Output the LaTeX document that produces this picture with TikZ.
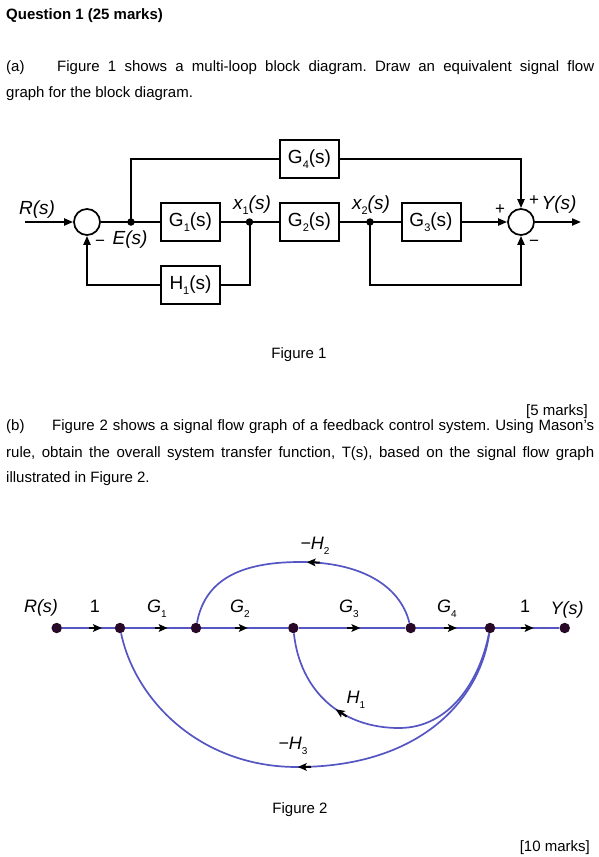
\documentclass[tikz,border=0pt]{standalone}
\usepackage{fontspec}
\setmainfont{Liberation Sans}
\usepackage{graphicx}
\usetikzlibrary{arrows.meta,decorations.markings}
\definecolor{sfblue}{RGB}{85,85,195}
\definecolor{sfdot}{RGB}{40,10,40}
\frenchspacing
\newsavebox\jlbox
\newcommand\jline[2]{\sbox\jlbox{#2}\ifdim\wd\jlbox>#1\relax\resizebox{#1}{\height}{\usebox\jlbox}\else\makebox[#1][s]{#2}\fi}
\newcommand\bsub[1]{\raisebox{-4.5pt}{\fontsize{11}{11}\selectfont\upshape #1}}
\newcommand\ssub[1]{\raisebox{-5pt}{\fontsize{10}{10}\selectfont\upshape #1}}
\begin{document}
\begin{tikzpicture}[x=1pt,y=-1pt,
  txt/.style={font=\fontsize{15}{18}\selectfont, inner sep=0, anchor=base west},
  bd/.style={line width=2pt},
  arr/.style={-{Triangle[length=9pt,width=7pt]}},
  blk/.style={draw, line width=2pt, minimum width=59pt, minimum height=38pt, inner sep=0, font=\fontsize{19}{19}\selectfont},
  sumc/.style={draw, circle, line width=1.7pt, minimum size=26pt, inner sep=0},
  bdot/.style={circle, fill, inner sep=0, minimum size=7.5pt},
  lab/.style={font=\fontsize{19}{19}\selectfont\itshape, inner sep=0},
  sgn/.style={font=\fontsize{17}{17}\selectfont, inner sep=0},
  sfl/.style={line width=1.7pt, draw=sfblue},
  sdot/.style={circle, fill=sfdot, inner sep=0, minimum size=10.5pt},
  slab/.style={font=\fontsize{18}{18}\selectfont\itshape, inner sep=0},
  snum/.style={font=\fontsize{18}{18}\selectfont, inner sep=0},
  marr/.style={postaction={decorate}, decoration={markings, mark=at position #1 with {\draw[black,line width=2pt] (-10pt,0) -- (-3pt,0); \fill[black] (3pt,0) -- (-6pt,4pt) -- (-4pt,0) -- (-6pt,-4pt) -- cycle;}}}
]
\useasboundingbox (0,0) rectangle (599,857);
\fill[white] (0,0) rectangle (599,857);

% ---------- text ----------
\node[txt,font=\fontsize{15}{18}\selectfont\bfseries] (q) at (6,19) {Question 1 (25 marks)};
\node[txt] (a) at (6,71) {(a)};
\node[txt] (al1) at (57,71) {\jline{537pt}{Figure 1 shows a multi-loop block diagram. Draw an equivalent signal flow}};
\node[txt] (al2) at (6,97) {graph for the block diagram.};
\node[txt,anchor=base] (f1) at (299,358) {Figure 1};
\node[txt,anchor=base east] (m5) at (588,415) {[5 marks]};
\node[txt] (b) at (6,430) {(b)};
\node[txt] (bl1) at (52,430) {\jline{542pt}{Figure 2 shows a signal flow graph of a feedback control system. Using Mason's}};
\node[txt] (bl2) at (6,457) {\jline{588pt}{rule, obtain the overall system transfer function, T(s), based on the signal flow graph}};
\node[txt] (bl3) at (6,482) {illustrated in Figure 2.};
\node[txt,anchor=base] (f2) at (300,813) {Figure 2};
\node[txt,anchor=base east] (m10) at (590,851) {[10 marks]};

% ---------- block diagram ----------
\coordinate (in) at (25,222);
\node[sumc] (s1) at (87,222) {};
\node[bdot] (e) at (131,222) {};
\node[blk] (g1) at (190.5,222) {G\bsub{1}(s)};
\node[bdot] (x1) at (249.5,222) {};
\node[blk] (g2) at (309.5,222) {G\bsub{2}(s)};
\node[bdot] (x2) at (370,222) {};
\node[blk] (g3) at (431,222) {G\bsub{3}(s)};
\node[sumc] (s2) at (521,222) {};
\coordinate (out) at (581,222);
\node[blk] (g4) at (309.5,159) {G\bsub{4}(s)};
\node[blk] (h1) at (190.5,285) {H\bsub{1}(s)};
\coordinate (c2) at (521,285);

\draw[bd,arr] (in) -- (s1);
\draw[bd] (s1) -- (g1);
\draw[bd] (g1) -- (g2);
\draw[bd] (g2) -- (g3);
\draw[bd,arr] (g3) -- (s2);
\draw[bd,arr] (s2) -- (out);
\draw[bd] (e.center) |- (g4);
\draw[bd,arr] (g4) -| (s2);
\draw[bd] (x1.center) |- (h1);
\draw[bd,arr] (h1) -| (s1);
\draw[bd,arr] (x2.center) |- (c2) -- (s2);

\node[lab] (rl) at (37,210) {R(s)};
\node[lab] (el) at (130,240) {E(s)};
\node[lab] (x1l) at (252,205) {x\bsub{1}(s)};
\node[lab] (x2l) at (371,205) {x\bsub{2}(s)};
\node[lab] (yl) at (559,205) {Y(s)};
\node[sgn] (m1) at (100,243) {−};
\node[sgn] (p1) at (500,210) {+};
\node[sgn] (p2) at (534,201) {+};
\node[sgn] (m2) at (534,243) {−};

% ---------- signal flow graph ----------
\node[sdot] (r) at (56.7,628) {};
\node[sdot] (n2) at (120,628) {};
\node[sdot] (n3) at (196,628) {};
\node[sdot] (n4) at (293.3,628) {};
\node[sdot] (n5) at (410.7,628) {};
\node[sdot] (n6) at (490,628) {};
\node[sdot] (y) at (564.7,628) {};

\draw[sfl,marr=0.7] (r) -- (n2);
\draw[sfl,marr=0.6] (n2) -- (n3);
\draw[sfl,marr=0.5] (n3) -- (n4);
\draw[sfl,marr=0.55] (n4) -- (n5);
\draw[sfl,marr=0.55] (n5) -- (n6);
\draw[sfl,marr=0.55] (n6) -- (y);

\draw[sfl,marr=0.47] (n5) .. controls (400,585) and (360,562) .. (300,562) .. controls (240,562) and (205,580) .. (n3);
\draw[sfl,marr=0.69] (n6) .. controls (480,680) and (450,728) .. (399,728) .. controls (340,728) and (300,690) .. (n4);
\draw[sfl,marr=0.51] (n6) .. controls (480,700) and (420,767) .. (297,767) .. controls (200,767) and (135,700) .. (n2);

\node[slab] (rs) at (41,608) {R(s)};
\node[snum] (l1) at (95,606) {1};
\node[slab] (lg1) at (157,609) {G\ssub{1}};
\node[slab] (lg2) at (240,609) {G\ssub{2}};
\node[slab] (lg3) at (349,609) {G\ssub{3}};
\node[slab] (lg4) at (447,609) {G\ssub{4}};
\node[snum] (l2) at (525,606) {1};
\node[slab] (ys) at (567,610) {Y(s)};
\node[slab] (lh2) at (315,546) {−H\ssub{2}};
\node[slab] (lh1) at (356,700) {H\ssub{1}};
\node[slab] (lh3) at (293,746) {−H\ssub{3}};
\end{tikzpicture}
\end{document}
